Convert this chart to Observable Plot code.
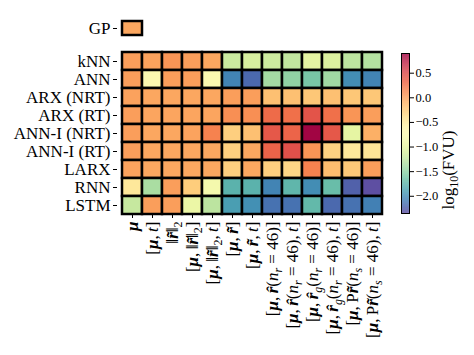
<!DOCTYPE html>
<html><head><meta charset="utf-8">
<script src="https://cdn.jsdelivr.net/npm/d3@7"></script>
<script src="https://cdn.jsdelivr.net/npm/@observablehq/plot@0.6"></script>
<style>
body{margin:0;background:#fff}
#chart{position:relative;width:474px;height:355px;overflow:hidden;background:#fff;font-family:'Liberation Serif'}
#chart svg{position:absolute;left:0;top:0;overflow:visible}
#chart svg text{font-family:'Liberation Serif'}
</style></head><body><div id="chart"></div>
<script>
// Models (rows)
const models = ["kNN","ANN","ARX (NRT)","ARX (RT)","ANN-I (NRT)","ANN-I (RT)","LARX","RNN","LSTM"];
// Feature sets (columns); markup: *bold italic*, /italic/, _subscript_
const features = [
  "*μ*",
  "[*μ*,\u2009/t/]",
  "‖*r\u0303*‖_2_",
  "[*μ*,\u2009‖*r\u0303*‖_2_]",
  "[*μ*,\u2009‖*r\u0303*‖_2_,\u2009/t/]",
  "[*μ*,\u2009*r\u0303*]",
  "[*μ*,\u2009*r\u0303*,\u2009/t/]",
  "[*μ*,\u2009*r\u0302*(/n/_r_ = 46)]",
  "[*μ*,\u2009*r\u0302*(/n/_r_ = 46),\u2009/t/]",
  "[*μ*,\u2009*r\u0302*_g_(/n/_r_ = 46)]",
  "[*μ*,\u2009*r\u0302*_g_(/n/_r_ = 46),\u2009/t/]",
  "[*μ*,\u2009P*r\u0303*(/n/_s_ = 46)]",
  "[*μ*,\u2009P*r\u0303*(/n/_s_ = 46),\u2009/t/]"
];
// log10(FVU) per model, one value per feature set
const vKNN    = [0.0, -0.02, 0.05, 0.0, -0.05, -1.2, -1.12, -1.18, -1.25, -1.02, -1.08, -1.27, -1.32];
const vANN    = [0.0, -0.72, 0.0, 0.0, -0.75, -2.05, -2.2, -1.4, -1.5, -1.62, -1.42, -2.0, -2.05];
const vARXNRT = [-0.02, -0.05, -0.05, -0.05, -0.05, 0.0, 0.0, -0.2, -0.2, -0.24, -0.2, -0.24, -0.24];
const vARXRT  = [0.0, -0.04, -0.04, -0.04, -0.04, 0.08, 0.08, 0.28, 0.25, 0.42, 0.25, 0.05, 0.0];
const vANNINRT= [0.0, -0.05, -0.05, -0.03, 0.15, -0.3, -0.2, 0.4, 0.32, 0.88, 0.4, -1.0, -0.1];
const vANNIRT = [0.0, -0.05, -0.05, -0.05, -0.05, -0.3, -0.05, 0.33, 0.45, 0.05, -0.32, -0.5, -0.47];
const vLARX   = [-0.03, -0.05, -0.05, -0.05, -0.05, -0.3, -0.05, -0.3, -0.35, 0.15, -0.18, -0.25, 0.0];
const vRNN    = [-0.5, -1.37, 0.0, -0.28, -0.85, -1.78, -1.78, -2.05, -1.75, -2.0, -1.7, -2.25, -2.35];
const vLSTM   = [-1.22, 0.0, 0.0, -0.95, -1.28, -1.9, -1.98, -2.15, -2.15, -1.73, -2.2, -2.15, -2.07];
const gpModel = ["GP"];
const vGP     = [-0.05];
const cbTicks = [-2, -1.5, -1, -0.5, 0, 0.5];
const cbDomain = [-2.35, 0.9];

const rowValues = [vKNN, vANN, vARXNRT, vARXRT, vANNINRT, vANNIRT, vLARX, vRNN, vLSTM];
const data = models.flatMap((m, i) => features.map((f, j) => ({model: m, feature: f, value: rowValues[i][j]})));
const gpData = vGP.map((v, j) => ({model: "GP", feature: features[j], value: v}));

const styleStr = size => `font-family:'Liberation Serif';font-size:${size}px;background:transparent;color:black`;
const color = {type: "linear", scheme: "spectral", reverse: true, domain: cbDomain};

const main = Plot.plot({
  width: 474, height: 355,
  marginLeft: 117, marginRight: 87, marginTop: 52, marginBottom: 141,
  style: styleStr(17),
  x: {domain: features, padding: 0, label: null, tickRotate: -90, tickSize: 4, tickPadding: 3},
  y: {domain: models, padding: 0, label: null, tickSize: 4, tickPadding: 3},
  color,
  marks: [Plot.cell(data, {x: "feature", y: "model", fill: "value", stroke: "black", strokeWidth: 2.5, inset: 0})]
});

const gp = Plot.plot({
  width: 474, height: 355,
  marginLeft: 117, marginRight: 87, marginTop: 21, marginBottom: 320,
  style: styleStr(17),
  x: {domain: features, padding: 0, axis: null},
  y: {domain: gpModel, padding: 0, label: null, tickSize: 4, tickPadding: 3},
  color,
  marks: [Plot.cell(gpData, {x: "feature", y: "model", fill: "value", stroke: "black", strokeWidth: 2.5, inset: 0})]
});

const step = 0.01;
const cbSteps = d3.range(cbDomain[0], cbDomain[1], step);
const cb = Plot.plot({
  width: 474, height: 355,
  marginLeft: 401, marginRight: 65, marginTop: 53, marginBottom: 142,
  style: styleStr(12.5),
  x: {domain: [0, 1], axis: null},
  y: {domain: cbDomain, axis: "right", ticks: cbTicks, tickFormat: d3.format(".1f"), tickSize: 4, tickPadding: 2, label: null},
  color,
  marks: [
    Plot.rect(cbSteps, {x1: 0, x2: 1, y1: d => d, y2: d => Math.min(d + step * 1.2, cbDomain[1]), fill: d => d}),
    Plot.frame({stroke: "black", strokeWidth: 1}),
    Plot.text(["log10(FVU)"], {frameAnchor: "right", dx: 39, dy: -3, rotate: -90, fontSize: 17, fill: "black"})
  ]
});

const chart = document.getElementById("chart");
chart.append(main, gp, cb);

// Rich text for math-like labels
function renderRich(textEl, markup, base) {
  while (textEl.firstChild) textEl.removeChild(textEl.firstChild);
  const ns = "http://www.w3.org/2000/svg";
  const parts = markup.split(/(\*[^*]+\*|_[^_]+_|\/[^/]+\/)/).filter(s => s.length);
  let shifted = 0;
  for (const p of parts) {
    const t = document.createElementNS(ns, "tspan");
    let txt = p, dy = 0;
    if (p[0] === "*") { txt = p.slice(1, -1); t.setAttribute("font-weight", "bold"); t.setAttribute("font-style", "italic"); }
    else if (p[0] === "/") { txt = p.slice(1, -1); t.setAttribute("font-style", "italic"); }
    else if (p[0] === "_") {
      txt = p.slice(1, -1);
      t.setAttribute("font-size", (base * 0.7) + "px");
      if (!/^\d+$/.test(txt)) t.setAttribute("font-style", "italic");
      dy = base * 0.22;
    }
    const d = dy - shifted;
    if (d !== 0) t.setAttribute("dy", d + "px");
    shifted = dy;
    t.textContent = txt;
    textEl.appendChild(t);
  }
}
main.querySelectorAll('g[aria-label="x-axis tick label"] text').forEach(el => {
  const key = el.textContent;
  if (features.includes(key)) renderRich(el, key, 17);
});
cb.querySelectorAll('g[aria-label="text"] text').forEach(el => {
  if (el.textContent === "log10(FVU)") renderRich(el, "log_10_(FVU)", 17);
});
</script></body></html>
